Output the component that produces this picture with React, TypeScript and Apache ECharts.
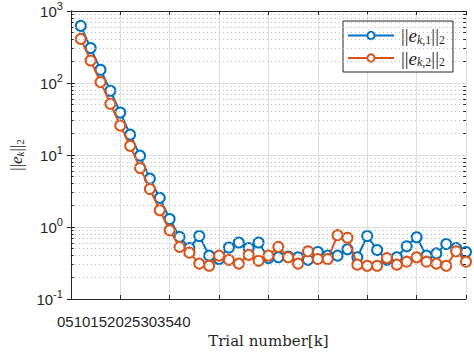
import React, { useEffect, useRef } from "react";
import * as echarts from "echarts";

const trials: number[] = Array.from({ length: 40 }, (_, i) => i + 1);
const e1: number[] = [
  621, 306, 153, 78, 39, 19.2, 9.8, 4.7, 2.54, 1.29,
  0.73, 0.51, 0.75, 0.4, 0.36, 0.52, 0.61, 0.51, 0.61, 0.37,
  0.38, 0.39, 0.38, 0.35, 0.45, 0.4, 0.4, 0.49, 0.38, 0.75,
  0.48, 0.35, 0.38, 0.54, 0.72, 0.4, 0.43, 0.58, 0.51, 0.45,
];
const e2: number[] = [
  410, 205, 103, 51.5, 25.7, 13.4, 6.6, 3.37, 1.71, 0.9,
  0.53, 0.44, 0.31, 0.29, 0.4, 0.35, 0.31, 0.41, 0.34, 0.4,
  0.53, 0.38, 0.31, 0.46, 0.36, 0.36, 0.77, 0.71, 0.3, 0.29,
  0.29, 0.37, 0.3, 0.33, 0.38, 0.33, 0.31, 0.29, 0.46, 0.33,
];
const seriesNames: string[] = ["e1", "e2"];
const xTickText = "0510152025303540";
const xMin = 0;
const xMax = 40;
const xInterval = 5;
const yMin = 0.1;
const yMax = 1000;
const decades: number[] = [0.1, 1, 10, 100];
const minorMultipliers: number[] = [2, 3, 4, 5, 6, 7, 8, 9];

const BLUE = "#0072BD";
const ORANGE = "#D95319";
const AX = "#262626";

export default function App() {
  const ref = useRef<HTMLDivElement>(null);
  useEffect(() => {
    if (!ref.current) return;
    const chart = echarts.init(ref.current, null, { renderer: "svg" });
    const minorVals: number[] = [];
    decades.forEach((d) => minorMultipliers.forEach((m) => minorVals.push(+(d * m).toPrecision(3))));
    const tickLen = 0.28;
    const minorTickSegs: any[] = [];
    minorVals.forEach((v) => {
      minorTickSegs.push([{ coord: [xMin, v] }, { coord: [xMin + tickLen, v] }]);
      minorTickSegs.push([{ coord: [xMax - tickLen, v] }, { coord: [xMax, v] }]);
    });
    const serif = "Liberation Serif";
    const legendRich = {
      n: { fontFamily: serif, fontSize: 19, color: AX, lineHeight: 19 },
      i: { fontFamily: serif, fontSize: 19, fontStyle: "italic" as const, color: AX, lineHeight: 19 },
      s: { fontFamily: serif, fontSize: 12, color: AX, padding: [8, 0, 0, 0] },
      si: { fontFamily: serif, fontSize: 12, fontStyle: "italic" as const, color: AX, padding: [8, 0, 0, 0] },
    };
    const legendText: Record<string, string> = {
      e1: "{n|||}{i|e}{si|k}{s|,1}{n|||}{s|2}",
      e2: "{n|||}{i|e}{si|k}{s|,2}{n|||}{s|2}",
    };
    const sansFont = "Liberation Sans";
    const yLabelFmt = (v: number) => {
      const ex = Math.round(Math.log10(v));
      return "{a|10}{e|" + ex + "}";
    };
    const yLabelRich = {
      a: { fontFamily: sansFont, fontSize: 15, color: AX, lineHeight: 22 },
      e: { fontFamily: sansFont, fontSize: 11, color: AX, verticalAlign: "top" as const },
    };
    const common = {
      type: "line" as const,
      symbol: "emptyCircle",
      symbolSize: 10,
      showSymbol: true,
    };
    chart.setOption({
      animation: false,
      grid: { left: 61, right: 8, top: 8, bottom: 49, containLabel: false },
      legend: {
        data: seriesNames,
        orient: "vertical",
        left: 343,
        top: 21,
        padding: [5, 8, 4, 4],
        itemGap: 3,
        itemWidth: 46,
        itemHeight: 9,
        backgroundColor: "#ffffff",
        borderColor: AX,
        borderWidth: 1,
        borderRadius: 0,
        formatter: (name: string) => legendText[name],
        textStyle: { rich: legendRich, padding: [0, 0, 0, 2] },
      },
      xAxis: [
        {
          type: "value",
          min: xMin,
          max: xMax,
          interval: xInterval,
          name: "Trial number[k]",
          nameLocation: "middle",
          nameGap: 34,
          nameTextStyle: { fontFamily: "DejaVu Serif", fontSize: 15, color: AX },
          axisLine: { show: true, lineStyle: { color: AX, width: 1 } },
          axisTick: { show: true, inside: true, length: 4, lineStyle: { color: AX } },
          axisLabel: { show: false },
          splitLine: { show: true, lineStyle: { color: "#dedede", width: 1 } },
        },
        {
          type: "value",
          position: "top",
          min: xMin,
          max: xMax,
          interval: xInterval,
          axisLine: { show: true, lineStyle: { color: AX, width: 1 } },
          axisTick: { show: true, inside: true, length: 4, lineStyle: { color: AX } },
          axisLabel: { show: false },
          splitLine: { show: false },
        },
      ],
      yAxis: [
        {
          type: "log",
          logBase: 10,
          min: yMin,
          max: yMax,
          name: "{n|||}{i|e}{si|k}{n|||}{s|2}",
          nameLocation: "middle",
          nameRotate: 90,
          nameGap: 45,
          nameTextStyle: {
            rich: {
              n: { fontFamily: serif, fontSize: 17, color: AX },
              i: { fontFamily: serif, fontSize: 17, fontStyle: "italic", color: AX },
              s: { fontFamily: serif, fontSize: 11, color: AX, padding: [7, 0, 0, 0] },
              si: { fontFamily: serif, fontSize: 11, fontStyle: "italic", color: AX, padding: [7, 0, 0, 0] },
            },
          },
          axisLine: { show: true, lineStyle: { color: AX, width: 1 } },
          axisTick: { show: true, inside: true, length: 4, lineStyle: { color: AX } },
          axisLabel: { show: true, margin: 8, formatter: yLabelFmt, rich: yLabelRich },
          splitLine: { show: true, lineStyle: { color: "#dedede", width: 1 } },
        },
        {
          type: "log",
          logBase: 10,
          min: yMin,
          max: yMax,
          position: "right",
          axisLine: { show: true, lineStyle: { color: AX, width: 1 } },
          axisTick: { show: true, inside: true, length: 4, lineStyle: { color: AX } },
          axisLabel: { show: false },
          splitLine: { show: false },
        },
      ],
      graphic: [
        {
          type: "text",
          left: 57,
          top: 314,
          style: { text: xTickText, font: "15px 'Liberation Sans'", fill: AX },
        },
      ],
      series: [
        {
          name: "minor",
          type: "line",
          data: [],
          silent: true,
          markLine: {
            silent: true,
            symbol: "none",
            label: { show: false },
            animation: false,
            lineStyle: { type: [1, 3], color: "#b8b8b8", width: 1 },
            data: minorVals.map((v) => ({ yAxis: v })),
          },
        },
        {
          name: "ticks",
          type: "line",
          data: [],
          silent: true,
          markLine: {
            silent: true,
            symbol: "none",
            label: { show: false },
            animation: false,
            lineStyle: { type: "solid", color: AX, width: 1 },
            data: minorTickSegs,
          },
        },
        {
          ...common,
          name: "e1",
          data: trials.map((t, i) => [t, e1[i]]),
          itemStyle: { color: BLUE, borderWidth: 2 },
          lineStyle: { width: 2, color: BLUE },
          z: 3,
        },
        {
          ...common,
          name: "e2",
          data: trials.map((t, i) => [t, e2[i]]),
          itemStyle: { color: ORANGE, borderWidth: 2 },
          lineStyle: { width: 2, color: ORANGE },
          z: 4,
        },
      ],
    });
    return () => chart.dispose();
  }, []);
  return (
    <div
      ref={ref}
      style={{ position: "fixed", left: 0, top: 0, width: 474, height: 353, background: "#fff" }}
    />
  );
}
